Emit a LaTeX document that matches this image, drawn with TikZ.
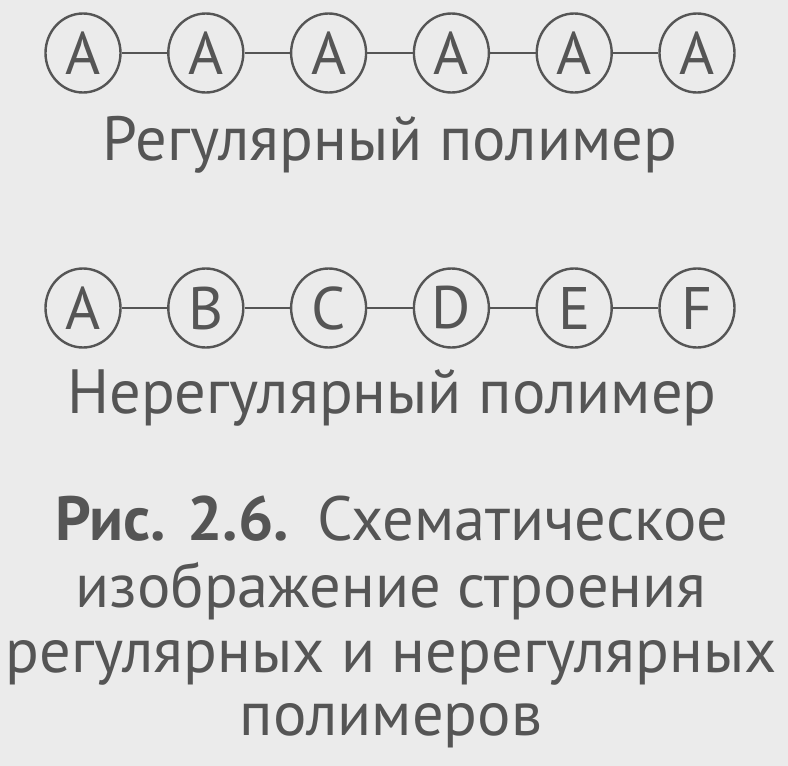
\documentclass[tikz,border=0pt]{standalone}
\usepackage{fontspec}
\setmainfont{PT Sans}
\usetikzlibrary{shapes.geometric}
\definecolor{ink}{HTML}{555555}
\definecolor{paper}{HTML}{EBEBEB}

\begin{document}
\begin{tikzpicture}[x=1pt,y=-1pt,line width=2.4pt,
            every node/.style={inner sep=0pt,text=ink,font=\fontsize{62.5}{70}\selectfont},
            unit/.style={draw=ink,ellipse,minimum width=75pt,minimum height=79pt,
              font=\fontsize{60}{70}\selectfont}]
            \fill[paper](0,0)rectangle(788,766);
            % regular chain
            \foreach \l [count=\i] in {A,A,A,A,A,A}
              \node[unit](a\i) at ({83+122.8*(\i-1)},53){\l};
            % irregular chain
            \foreach \l [count=\i] in {A,B,C,D,E,F}
              \node[unit](b\i) at ({83+122.8*(\i-1)},308){\l};
            \foreach \i/\j in {1/2,2/3,3/4,4/5,5/6}
              \draw[ink](a\i)--(a\j) (b\i)--(b\j);
            \node[anchor=base](reg) at (390,160){Регулярный полимер};
            \node[anchor=base](irr) at (392,413){Нерегулярный полимер};
            % caption
            \node[anchor=base](cap1) at (392,540){\textbf{Рис. 2.6.}\hspace{0.45em}Схематическое};
            \node[anchor=base](cap2) at (391,607){изображение строения};
            \node[anchor=base](cap3) at (391,672){регулярных и нерегулярных};
            \node[anchor=base](cap4) at (391,735){полимеров};
          \end{tikzpicture}
\end{document}
